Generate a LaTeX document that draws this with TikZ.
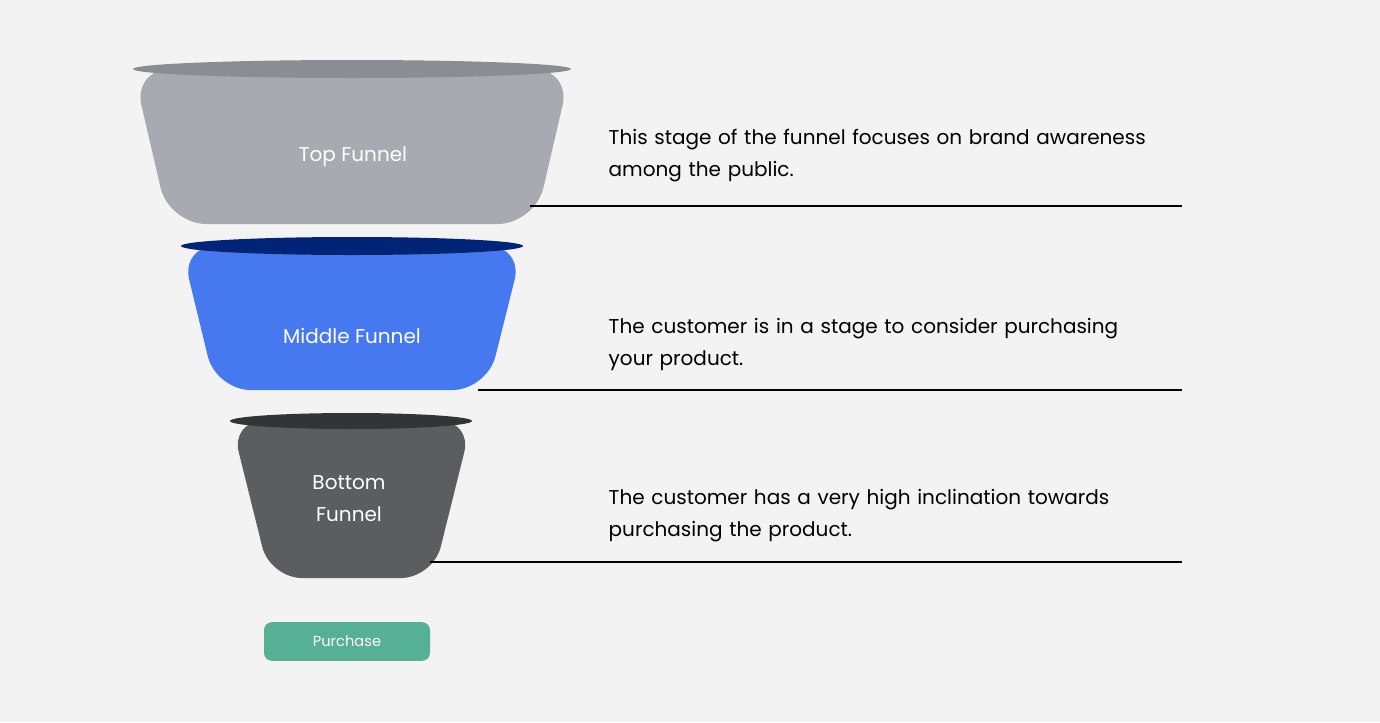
\documentclass[tikz,border=0pt]{standalone}
\usepackage{fontspec}
\setmainfont{Poppins}
\usetikzlibrary{positioning}
\definecolor{bgc}{HTML}{F3F3F3}
\definecolor{toprim}{HTML}{8A8D91}
\definecolor{topbody}{HTML}{A7AAB1}
\definecolor{midrim}{HTML}{002576}
\definecolor{midbody}{HTML}{4679EF}
\definecolor{botrim}{HTML}{333436}
\definecolor{botbody}{HTML}{5C5D60}
\definecolor{buy}{HTML}{55B095}
\tikzset{
	stagelabel/.style={text=white, font=\fontsize{15}{24}\selectfont, align=center},
	stagetext/.style={anchor=west, align=left, font=\fontsize{15}{24}\selectfont, text width=450pt},
	divider/.style={line width=1pt, black}
}
\begin{document}
\begin{tikzpicture}[x=0.75pt, y=-0.75pt]
	\fill[bgc] (0,0) rectangle (1380,722);
	\useasboundingbox (0,0) rectangle (1380,722);

	% top funnel
	\fill[topbody, rounded corners=28] (133,69) -- (169,224) -- (535,224) -- (571,69) -- cycle;
	\fill[toprim] (352,69) ellipse [x radius=219, y radius=9];
	\node[stagelabel] (top) at (353,157) {Top Funnel};

	% middle funnel
	\fill[midbody, rounded corners=26] (181,246) -- (216,390) -- (487,390) -- (523,246) -- cycle;
	\fill[midrim] (352,246) ellipse [x radius=171, y radius=9];
	\node[stagelabel] (mid) at (352,336) {Middle Funnel};

	% bottom funnel
	\fill[botbody, rounded corners=24] (231,421) -- (270,578) -- (433,578) -- (472,421) -- cycle;
	\fill[botrim] (351,421) ellipse [x radius=121, y radius=8];
	\node[stagelabel] (bot) at (349,499) {Bottom\\Funnel};

	% purchase
	\node[fill=buy, rounded corners=6, minimum width=124.5pt, minimum height=29pt,
		text=white, font=\fontsize{11}{13}\selectfont] (buy) at (347,641.5) {Purchase};

	% descriptions
	\node[stagetext] (toptxt) at (604,156) {This stage of the funnel focuses on brand awareness\\among the public.};
	\node[stagetext] (midtxt) at (604,344) {The customer is in a stage to consider purchasing\\your product.};
	\node[stagetext] (bottxt) at (604,516) {The customer has a very high inclination towards\\purchasing the product.};

	\coordinate (topa) at (530,206);
	\coordinate (topb) at (1182,206);
	\coordinate (mida) at (478,390);
	\coordinate (midb) at (1182,390);
	\coordinate (bota) at (430,562);
	\coordinate (botb) at (1182,562);
	\draw[divider] (topa) -- (topb);
	\draw[divider] (mida) -- (midb);
	\draw[divider] (bota) -- (botb);
\end{tikzpicture}
\end{document}
